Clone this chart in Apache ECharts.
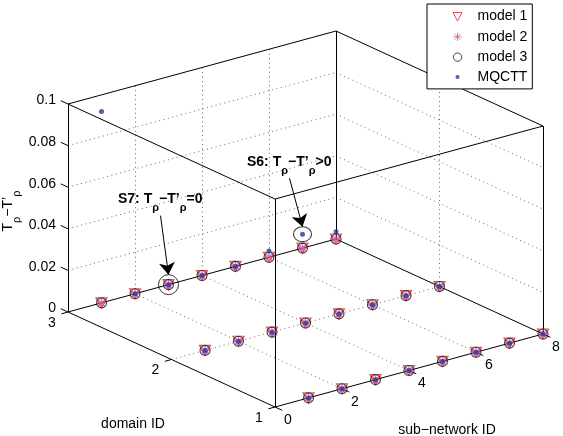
<!DOCTYPE html>
<html><head><meta charset="utf-8">
<script src="https://cdn.jsdelivr.net/npm/echarts@6/dist/echarts.min.js"></script>
<style>html,body{margin:0;padding:0;background:#fff}#c{width:563px;height:436px}</style>
</head><body><div id="c"></div>
<script>
// ---------------- data ----------------
const subNetworkIds = [1, 2, 3, 4, 5, 6, 7, 8];
const domainIds = [1, 2, 3];
// rows indexed by domain (1,2,3), columns by sub-network (1..8)
const model1 = [
  [0, 0, 0, 0, 0, 0, 0, 0],
  [0, 0, 0, 0, 0, 0, 0, 0],
  [0, 0, 0, 0, 0, 0, 0, 0]
];
const model2 = [
  [0, 0, 0, 0, 0, 0, 0, 0],
  [0, 0, 0, 0, 0, 0, 0, 0],
  [0, 0, 0, 0, 0, 0, 0, 0]
];
const model3 = [
  [0, 0, 0, 0, 0, 0, 0, 0],
  [0, 0, 0, 0, 0, 0, 0, 0],
  [0, 0, 0, 0, 0, 0, 0, 0]
];
const mqctt = [
  [0, 0, 0, 0, 0, 0, 0, 0],
  [0, 0, 0, 0, 0, 0, 0, 0],
  [0.092, 0, 0, 0, 0, 0.003, 0.0067, 0.0035]
];
const subTicks = [0, 2, 4, 6, 8];
const domainTicks = [1, 2, 3];
const zTicks = [0, 0.02, 0.04, 0.06, 0.08, 0.1];
const zTickLabels = ['0', '0.02', '0.04', '0.06', '0.08', '0.1'];
const subRange = [0, 8];
const domainRange = [1, 3];
const zRange = [0, 0.1];
const subGrid = [2, 4, 6];
const domainGrid = [2];
const zGrid = [0.02, 0.04, 0.06, 0.08];
// annotated points
const s7Point = { sub: 3, domain: 3 };
const s6Point = { sub: 7, domain: 3 };

// ---------------- 3-D view (projection onto the page) ----------------
const ORIGIN = [68, 312];          // screen of (sub 0, domain 3, z 0)
const SUB_STEP = [33.5, -9.125];   // per sub-network unit
const DOM_STEP = [-103.5, -47.5];  // per domain unit
const Z_STEP = [0, -2080];         // per z unit
function P(s, d, z) {
  return [
    ORIGIN[0] + SUB_STEP[0] * s + DOM_STEP[0] * (d - 3) + Z_STEP[0] * z,
    ORIGIN[1] + SUB_STEP[1] * s + DOM_STEP[1] * (d - 3) + Z_STEP[1] * z
  ];
}
const FONT = '"Liberation Sans", Arial, Helvetica, sans-serif';

function pointsOf(arr) {
  const out = [];
  domainIds.forEach((d, di) => subNetworkIds.forEach((s, si) => {
    const v = arr[di][si];
    const p = P(s, d, v);
    out.push([p[0], p[1], s, d, v]);
  }));
  return out;
}
function seg(a, b) { return { coords: [a, b] }; }

// box edges
const edges = [];
const [s0, s1] = subRange, [d0, d1] = domainRange, [z0, z1] = zRange;
[d0, d1].forEach(d => [z0, z1].forEach(z => edges.push(seg(P(s0, d, z), P(s1, d, z)))));
[s0, s1].forEach(s => [z0, z1].forEach(z => edges.push(seg(P(s, d0, z), P(s, d1, z)))));
[s0, s1].forEach(s => [d0, d1].forEach(d => edges.push(seg(P(s, d, z0), P(s, d, z1)))));

// grid lines (floor, back wall domain=3, back wall sub=8)
const grids = [];
subGrid.forEach(s => grids.push(seg(P(s, d1, z0), P(s, d0, z0))));
domainGrid.forEach(d => grids.push(seg(P(s0, d, z0), P(s1, d, z0))));
subGrid.forEach(s => grids.push(seg(P(s, d1, z0), P(s, d1, z1))));
zGrid.forEach(z => grids.push(seg(P(s0, d1, z), P(s1, d1, z))));
domainGrid.forEach(d => grids.push(seg(P(s1, d, z0), P(s1, d, z1))));
zGrid.forEach(z => grids.push(seg(P(s1, d1, z), P(s1, d0, z))));

// ticks
const ticks = [];
zTicks.forEach(z => ticks.push(seg(P(s0, d1, z), P(s0, d1 + 0.07, z))));
domainTicks.forEach(d => ticks.push(seg(P(s0, d, z0), P(s0 - 0.2, d, z0))));
subTicks.forEach(s => ticks.push(seg(P(s, d0, z0), P(s, d0 - 0.07, z0))));

// annotations
const s7 = P(s7Point.sub, s7Point.domain, mqctt[s7Point.domain - 1][s7Point.sub - 1]);
const s6 = P(s6Point.sub, s6Point.domain, mqctt[s6Point.domain - 1][s6Point.sub - 1]);
const arrows = [
  seg([s7[0] - 8, s7[1] - 69], [s7[0], s7[1] - 10]),
  seg([s6[0] - 13, s6[1] - 56], [s6[0], s6[1] - 7.5])
];

// ---------------- text ----------------
const graphics = [];
zTicks.forEach((z, i) => {
  const p = P(s0, d1, z);
  graphics.push({ type: 'text', x: p[0] - 12, y: p[1] - 3.5, style: { text: zTickLabels[i], font: '14px ' + FONT, fill: '#000', align: 'right', verticalAlign: 'middle' } });
});
domainTicks.forEach(d => {
  const p = P(s0, d, z0);
  graphics.push({ type: 'text', x: p[0] - 16, y: p[1] + 11, style: { text: String(d), font: '14px ' + FONT, fill: '#000', align: 'center', verticalAlign: 'middle' } });
});
subTicks.forEach(s => {
  const p = P(s, d0, z0);
  graphics.push({ type: 'text', x: p[0] + 13, y: p[1] + 13, style: { text: String(s), font: '14px ' + FONT, fill: '#000', align: 'center', verticalAlign: 'middle' } });
});
graphics.push({ type: 'text', x: 133, y: 424, style: { text: 'domain ID', font: '14px ' + FONT, fill: '#000', align: 'center', verticalAlign: 'middle' } });
graphics.push({ type: 'text', x: 447, y: 430, style: { text: 'sub\u2212network ID', font: '14px ' + FONT, fill: '#000', align: 'center', verticalAlign: 'middle' } });

function subRich(bold) {
  const w = bold ? 'bold ' : '';
  return {
    n: { font: w + '14px ' + FONT, fill: '#000', lineHeight: 16, verticalAlign: 'top' },
    s: { font: w + '11px ' + FONT, fill: '#000', lineHeight: 12, padding: [10, 0, 0, 0], verticalAlign: 'top' }
  };
}
graphics.push({ type: 'text', x: 1, y: 211, rotation: Math.PI / 2,
  style: { text: '{n|T}{s|\u03c1}{n|\u2212T\u2019}{s|\u03c1}', rich: subRich(false), align: 'center', verticalAlign: 'top' } });
graphics.push({ type: 'text', x: 118, y: 192,
  style: { text: '{n|S7: T}{s|\u03c1}{n|\u2212T\u2019}{s|\u03c1}{n|=0}', rich: subRich(true), align: 'left', verticalAlign: 'top' } });
graphics.push({ type: 'text', x: 247, y: 155,
  style: { text: '{n|S6: T}{s|\u03c1}{n|\u2212T\u2019}{s|\u03c1}{n|>0}', rich: subRich(true), align: 'left', verticalAlign: 'top' } });

// ---------------- symbols ----------------
const TRI = 'path://M0,0L10,0L5,9Z';
const AST = 'path://M5,0L5,10M0,5L10,5M1.5,1.5L8.5,8.5M1.5,8.5L8.5,1.5';
const L_TRI = 'path://M0,0M14,14M2.5,3L11.5,3L7,11.5Z';
const L_AST = 'path://M0,0M14,14M7,2.8L7,11.2M2.8,7L11.2,7M4,4L10,10M4,10L10,4';
const L_CIR = 'path://M0,0M14,14M2.8,7A4.2,4.2,0,1,1,11.2,7A4.2,4.2,0,1,1,2.8,7Z';
const L_DOT = 'path://M0,0M14,14M5,7A2,2,0,1,1,9,7A2,2,0,1,1,5,7Z';

const chart = echarts.init(document.getElementById('c'), null, { renderer: 'canvas' });
chart.setOption({
  animation: false,
  backgroundColor: '#fff',
  grid: { left: 0, right: 0, top: 0, bottom: 0 },
  xAxis: { type: 'value', min: 0, max: 563, show: false },
  yAxis: { type: 'value', min: 0, max: 436, inverse: true, show: false },
  legend: {
    orient: 'vertical', left: 427, top: 4,
    padding: [5, 5, 5, 23], itemWidth: 30, itemHeight: 14, itemGap: 5.3,
    borderColor: '#000', borderWidth: 1, backgroundColor: '#fff',
    itemStyle: { borderWidth: 1 },
    textStyle: { fontSize: 14, fontFamily: FONT, color: '#000', lineHeight: 14 },
    data: [
      { name: 'model 1', icon: L_TRI },
      { name: 'model 2', icon: L_AST },
      { name: 'model 3', icon: L_CIR },
      { name: 'MQCTT', icon: L_DOT, itemStyle: { borderWidth: 0 } }
    ]
  },
  series: [
    { type: 'lines', coordinateSystem: 'cartesian2d', z: 1, silent: true,
      lineStyle: { color: '#666', width: 1, type: [1, 3.5], opacity: 1 }, data: grids },
    { type: 'lines', coordinateSystem: 'cartesian2d', z: 2, silent: true,
      lineStyle: { color: '#000', width: 1, opacity: 1 }, data: edges.concat(ticks) },
    { name: 'model 1', type: 'scatter', z: 3, symbol: TRI, symbolSize: [11, 10],
      itemStyle: { color: 'rgba(0,0,0,0)', borderColor: '#d8283a', borderWidth: 1.2 }, data: pointsOf(model1) },
    { name: 'model 2', type: 'scatter', z: 4, symbol: AST, symbolSize: 9,
      itemStyle: { color: 'rgba(0,0,0,0)', borderColor: '#d455a8', borderWidth: 1.4 }, data: pointsOf(model2) },
    { name: 'model 3', type: 'scatter', z: 5, symbol: 'circle', symbolSize: 10,
      itemStyle: { color: 'rgba(0,0,0,0)', borderColor: '#1a1a1a', borderWidth: 1.1 }, data: pointsOf(model3) },
    { name: 'MQCTT', type: 'scatter', z: 6, symbol: 'circle', symbolSize: 5,
      itemStyle: { color: '#1f3d9c' }, data: pointsOf(mqctt) },
    { type: 'scatter', z: 7, silent: true, symbol: 'circle',
      itemStyle: { color: 'rgba(0,0,0,0)', borderColor: '#000', borderWidth: 1 },
      data: [ { value: s7, symbolSize: [20, 20] }, { value: s6, symbolSize: [18, 15] } ] },
    { type: 'lines', coordinateSystem: 'cartesian2d', z: 7, silent: true,
      symbol: ['none', 'arrow'], symbolSize: 12,
      lineStyle: { color: '#000', width: 1, opacity: 1 }, data: arrows }
  ],
  graphic: graphics
});
</script>
</body></html>
